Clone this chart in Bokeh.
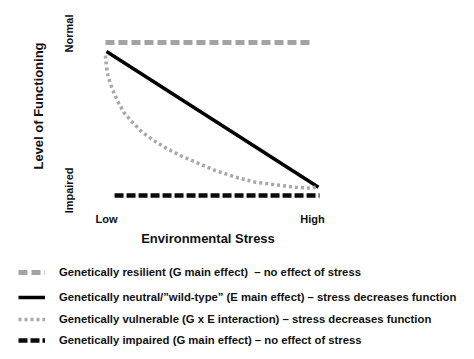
import math
from bokeh.plotting import figure
from bokeh.models import Legend, LegendItem, Range1d, Label
from bokeh.core.properties import value
from bokeh.embed import file_html
from bokeh.resources import INLINE

# ---- data ----
x_ticks = [0, 1]
x_tick_labels = ["Low", "High"]
y_ticks = [0.033, 1.059]
y_tick_labels = ["Impaired", "Normal"]
x_title = "Environmental Stress"
y_title = "Level of Functioning"

resilient_x = [-0.005, 0.995]
resilient_y = [1.0, 1.0]

neutral_x = [0.0, 1.029]
neutral_y = [0.941, 0.054]

vulnerable_x = [-0.005, -0.001, 0.008, 0.028, 0.052, 0.084, 0.125, 0.173, 0.230,
                0.295, 0.359, 0.432, 0.529, 0.626, 0.723, 0.820, 0.917, 0.990, 1.015]
vulnerable_y = [0.915, 0.850, 0.773, 0.697, 0.621, 0.544, 0.479, 0.414, 0.359,
                0.305, 0.261, 0.218, 0.163, 0.120, 0.087, 0.070, 0.054, 0.048, 0.054]

impaired_x = [0.039, 1.034]
impaired_y = [0.0, 0.0]

labels = [
    "Genetically resilient (G main effect)  \u2013 no effect of stress",
    "Genetically neutral/\u201dwild-type\u201d (E main effect) \u2013 stress decreases function",
    "Genetically vulnerable (G x E interaction) \u2013 stress decreases function",
    "Genetically impaired (G main effect) \u2013 no effect of stress",
]

FONT = "Liberation Sans"
TEXT = "#111111"

p = figure(width=474, height=359, output_backend="svg", toolbar_location=None,
           x_range=Range1d(-0.5146, 1.7864), y_range=Range1d(-1.0719, 1.2745),
           x_axis_type=None, y_axis_type=None, min_border=0)
p.outline_line_color = None
p.grid.visible = False

r1 = p.line(resilient_x, resilient_y, line_color="#a3a3a3", line_width=5, line_dash="9 4")
r2 = p.line(neutral_x, neutral_y, line_color="#000000", line_width=3.5)
r3 = p.line(vulnerable_x, vulnerable_y, line_color="#a8a8a8", line_width=3.5, line_dash="3 3")
r4 = p.line(impaired_x, impaired_y, line_color="#0a0a0a", line_width=4.5, line_dash="9 3")

# x tick labels (under the baseline of the chart)
p.text(x=x_ticks, y=[0] * len(x_ticks), text=x_tick_labels, y_offset=24,
       text_align="center", text_baseline="middle",
       text_font=value(FONT), text_font_style="bold", text_font_size="11px",
       text_color=TEXT)

# y tick labels (rotated, left of the chart)
p.text(x=[0] * len(y_ticks), y=y_ticks, text=y_tick_labels, x_offset=-38,
       angle=math.pi / 2, text_align="center", text_baseline="middle",
       text_font=value(FONT), text_font_style="bold", text_font_size="11px",
       text_color=TEXT)

# axis titles
p.add_layout(Label(x=207.5, y=121.5, x_units="screen", y_units="screen",
                   text=x_title, text_align="center", text_baseline="middle",
                   text_font=FONT, text_font_style="bold", text_font_size="13px",
                   text_color=TEXT))
p.add_layout(Label(x=38, y=253.5, x_units="screen", y_units="screen",
                   text=y_title, angle=math.pi / 2, text_align="center",
                   text_baseline="middle",
                   text_font=FONT, text_font_style="bold", text_font_size="13px",
                   text_color=TEXT))

# legend rows
row_offsets = [80, 55, 33, 12]
for r, lab, oy in zip([r1, r2, r3, r4], labels, row_offsets):
    lg = Legend(items=[LegendItem(label=lab, renderers=[r])],
                location=(18, oy), padding=0, margin=0, spacing=0,
                glyph_width=27, glyph_height=14, label_standoff=14,
                label_text_font=FONT, label_text_font_style="bold",
                label_text_font_size="11.3px", label_text_color=TEXT,
                border_line_color=None, background_fill_alpha=0)
    p.add_layout(lg, "center")

open("out.html", "w").write(file_html(p, INLINE))
